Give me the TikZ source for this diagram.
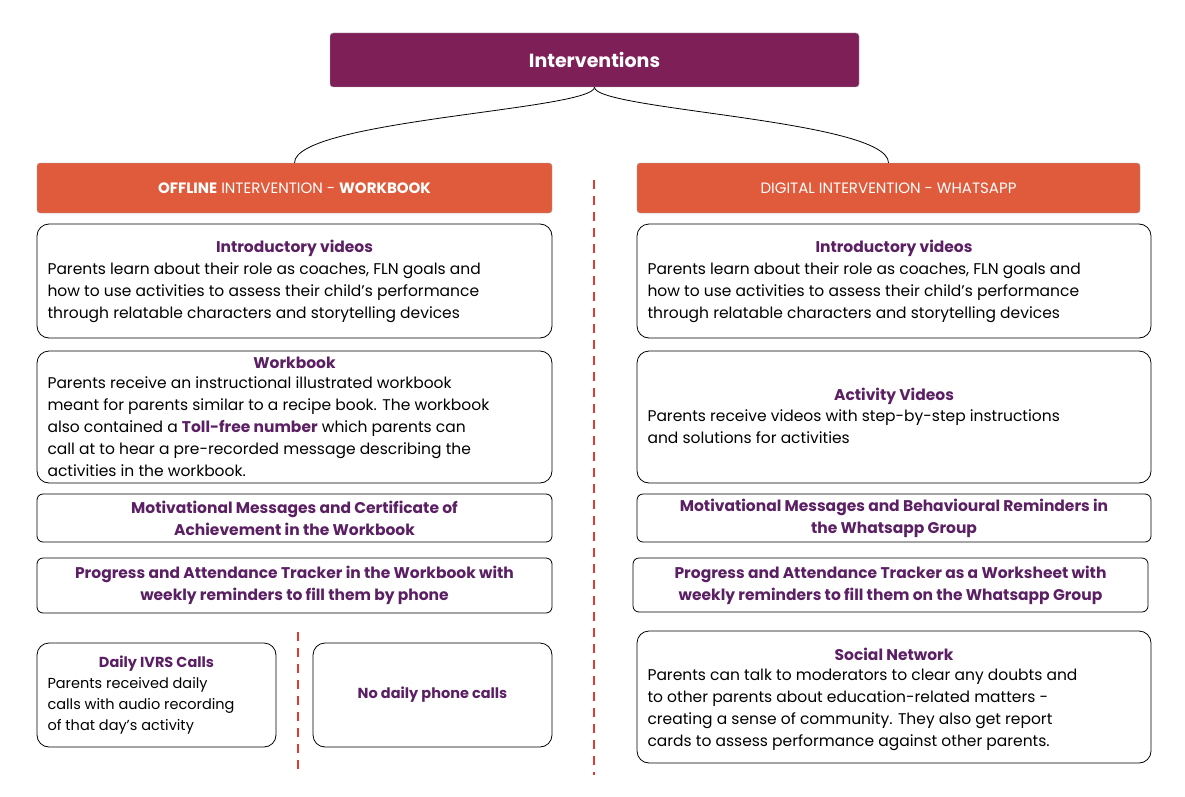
\documentclass[tikz,border=0pt]{standalone}
\usepackage{fontspec}
\setmainfont{Poppins}
\definecolor{plum}{HTML}{7E1F57}
\definecolor{ttl}{HTML}{5B1F63}
\definecolor{orng}{HTML}{DF5B3B}
\definecolor{dred}{HTML}{E03A30}
\begin{document}
\begin{tikzpicture}[x=1pt,y=-1pt,
 box/.style={draw=black,rounded corners=12pt,line width=0.8pt},
 hdr/.style={draw=gray!70,fill=orng,rounded corners=3pt,text=white,font=\fontsize{15}{18}\selectfont},
 tt/.style={text=ttl,font=\fontsize{15.5}{22}\selectfont\bfseries,align=center},
 bd/.style={font=\fontsize{15.5}{22}\selectfont,align=left,anchor=north west},
 dsh/.style={dred,line width=2pt,dash pattern=on 9pt off 7pt}]
\useasboundingbox (0,0) rectangle (1185,797);
\node[draw=gray!60,fill=plum,rounded corners=3pt,minimum width=529pt,minimum height=54pt,text=white,font=\fontsize{19}{22}\selectfont\bfseries] (top) at (594.5,60) {Interventions};
\node[hdr,minimum width=515pt,minimum height=50pt] (lh) at (294.5,188) {\textbf{OFFLINE} INTERVENTION - \textbf{WORKBOOK}};
\node[hdr,minimum width=503pt,minimum height=50pt] (rh) at (888.5,188) {DIGITAL INTERVENTION - WHATSAPP};
\draw[line width=0.8pt] (top.south) .. controls (594,110) and (295,120) .. (lh.north);
\draw[line width=0.8pt] (top.south) .. controls (594,110) and (888,120) .. (rh.north);
\draw[dsh] (594,180) -- (594,775);
\draw[dsh] (298,632) -- (298,770);
% left
\draw[box] (37,224) rectangle (552,338);
\node[tt] (l1t) at (294.5,248) {Introductory videos};
\node[bd] (l1b) at (44,259) {Parents learn about their role as coaches, FLN goals and\\how to use activities to assess their child’s performance\\through relatable characters and storytelling devices};
\draw[box] (37,351) rectangle (552,483);
\node[tt] (l2t) at (294.5,363) {Workbook};
\node[bd] (l2b) at (44,373) {Parents receive an instructional illustrated workbook\\meant for parents similar to a recipe book. The workbook\\also contained a {\color{ttl}\bfseries Toll-free number} which parents can\\call at to hear a pre-recorded message describing the\\activities in the workbook.};
\draw[box,rounded corners=6pt] (37,494) rectangle (552,542);
\node[tt] (l3) at (294.5,518) {Motivational Messages and Certificate of\\Achievement in the Workbook};
\draw[box,rounded corners=6pt] (37,558) rectangle (552,613);
\node[tt] (l4) at (294.5,585.5) {Progress and Attendance Tracker in the Workbook with\\weekly reminders to fill them by phone};
\draw[box] (37,643) rectangle (276,747);
\node[tt,font=\fontsize{14.5}{20}\selectfont\bfseries] (l5t) at (156.5,664) {Daily IVRS Calls};
\node[bd,font=\fontsize{14.5}{21}\selectfont] (l5b) at (44,674) {Parents received daily\\calls with audio recording\\of that day’s activity};
\draw[box] (313,643) rectangle (552,747);
\node[tt,font=\fontsize{14.5}{20}\selectfont\bfseries] (l6) at (432.5,695) {No daily phone calls};
% right
\draw[box] (637,224) rectangle (1151,338);
\node[tt] (r1t) at (894,248) {Introductory videos};
\node[bd] (r1b) at (644,259) {Parents learn about their role as coaches, FLN goals and\\how to use activities to assess their child’s performance\\through relatable characters and storytelling devices};
\draw[box] (637,351) rectangle (1151,483);
\node[tt] (r2t) at (894,396) {Activity Videos};
\node[bd] (r2b) at (644,406) {Parents receive videos with step-by-step instructions\\and solutions for activities};
\draw[box,rounded corners=6pt] (637,494) rectangle (1151,542);
\node[tt] (r3) at (894,518) {Motivational Messages and Behavioural Reminders in\\the Whatsapp Group};
\draw[box,rounded corners=6pt] (633,558) rectangle (1148,612);
\node[tt] (r4) at (890.5,585) {Progress and Attendance Tracker as a Worksheet with\\weekly reminders to fill them on the Whatsapp Group};
\draw[box] (637,631) rectangle (1151,763);
\node[tt] (r5t) at (894,654) {Social Network};
\node[bd] (r5b) at (644,665) {Parents can talk to moderators to clear any doubts and\\to other parents about education-related matters -\\creating a sense of community. They also get report\\cards to assess performance against other parents.};
\end{tikzpicture}
\end{document}
